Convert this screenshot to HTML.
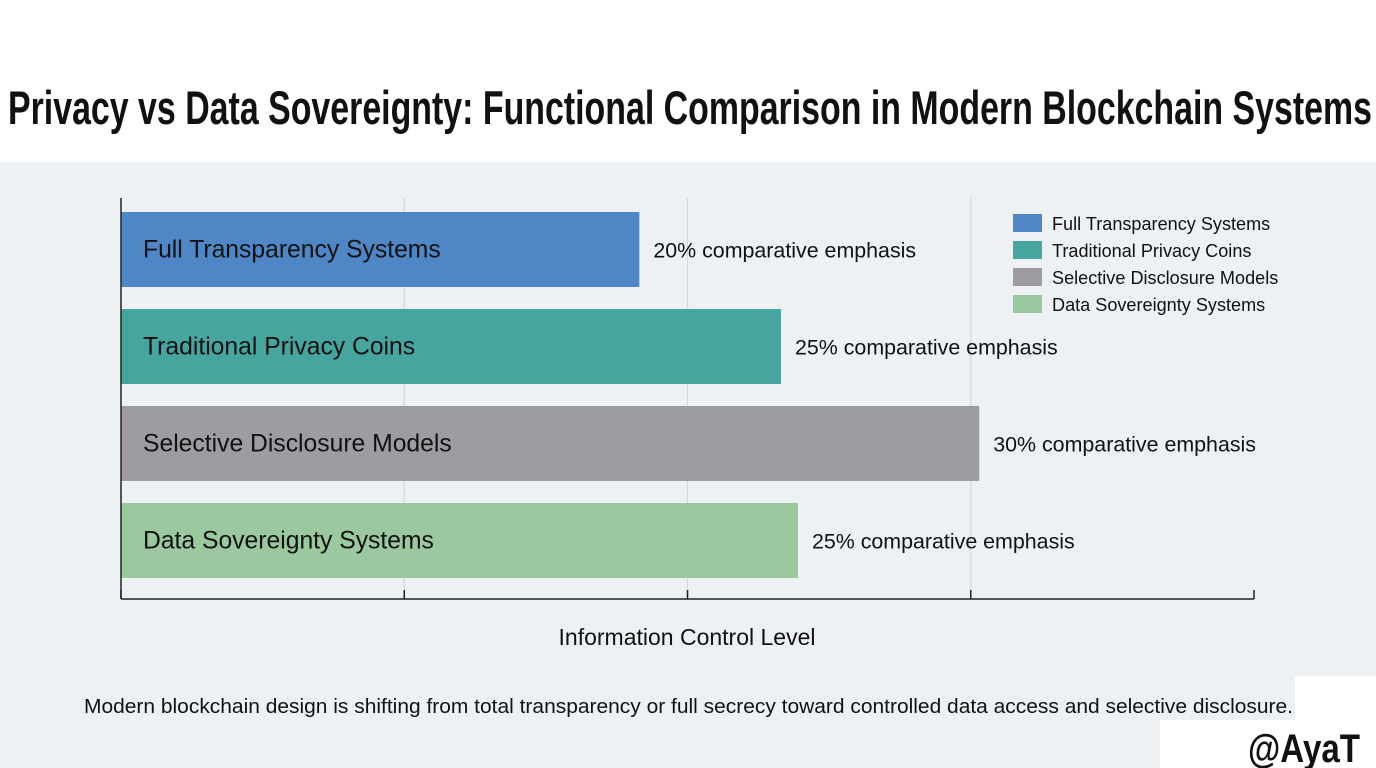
<!DOCTYPE html>
<html><head><meta charset="utf-8"><style>
body{margin:0;width:1376px;height:768px;overflow:hidden;background:#fff;font-family:"Liberation Sans",sans-serif}
svg{display:block}
</style></head><body>
<svg id="chart" width="1376" height="768" xmlns="http://www.w3.org/2000/svg">
<rect x="0" y="0" width="1376" height="162" fill="#ffffff"/>
<rect x="0" y="162" width="1376" height="606" fill="#edf1f4"/>
<text x="8" y="124" textLength="1364" lengthAdjust="spacingAndGlyphs" font-family="'Liberation Sans Narrow','Liberation Sans',sans-serif" font-weight="bold" font-size="47" fill="#111">Privacy vs Data Sovereignty: Functional Comparison in Modern Blockchain Systems</text>
<g id="grid"></g>
<g id="bars"></g>
<g id="axis"></g>
<g id="legend"></g>
<text x="687" y="645" text-anchor="middle" font-size="23" fill="#111">Information Control Level</text>
<text x="84" y="713" textLength="1209" lengthAdjust="spacingAndGlyphs" font-size="20" fill="#111">Modern blockchain design is shifting from total transparency or full secrecy toward controlled data access and selective disclosure.</text>
<rect x="1160" y="720" width="216" height="48" fill="#fff"/>
<rect x="1295" y="676" width="81" height="44" fill="#fff"/>
<text x="1248" y="762" textLength="112" lengthAdjust="spacingAndGlyphs" font-family="'Liberation Sans Narrow','Liberation Sans',sans-serif" font-weight="bold" font-size="40" fill="#111">@AyaT</text>
</svg>
<script>
const categories=["Full Transparency Systems","Traditional Privacy Coins","Selective Disclosure Models","Data Sovereignty Systems"];
const controlLevel=[18.3,23.3,30.3,23.9];
const emphasisPct=[20,25,30,25];
const colors=["#4f86c6","#46a59f","#9e9ca1","#9ac99f"];
const xTicks=[0,10,20,30,40];
const NS="http://www.w3.org/2000/svg";
const X0=121,X1=1254,DMAX=40;
const x=v=>X0+(X1-X0)*v/DMAX;
const yBand=i=>212+i*97;
const BH=75;
function mk(tag,attrs,parent,text){const e=document.createElementNS(NS,tag);for(const k in attrs)e.setAttribute(k,attrs[k]);if(text!=null)e.textContent=text;parent.appendChild(e);return e;}
const grid=document.getElementById('grid'),bars=document.getElementById('bars'),axis=document.getElementById('axis'),legend=document.getElementById('legend');
xTicks.forEach((t,i)=>{
  if(i>0&&i<xTicks.length-1){const g=mk('line',{x1:x(t),x2:x(t),y1:198,y2:598,stroke:'#d5d9dd','stroke-width':1.2},grid);
  
  }
  const tk=mk('line',{x1:x(t),x2:x(t),y1:590,y2:599,stroke:'#222','stroke-width':1.5},axis);
  
  
});
const ax=mk('line',{x1:X0,x2:X1,y1:599,y2:599,stroke:'#222','stroke-width':1.5},axis);


const ay=mk('line',{x1:X0,x2:X0,y1:198,y2:599,stroke:'#222','stroke-width':1.5},axis);


categories.forEach((c,i)=>{
  const y=yBand(i);
  const r=mk('rect',{x:X0,y:y,width:x(controlLevel[i])-X0,height:BH,fill:colors[i]},bars);
  
  
  const t=mk('text',{x:143,y:y+BH/2+8,'font-size':24.7,fill:'#111'},bars,c);
  
  
  const v=mk('text',{x:x(controlLevel[i])+14,y:y+BH/2+8,'font-size':21.4,fill:'#111'},bars,emphasisPct[i]+'% comparative emphasis');
  
  
  const s=mk('rect',{x:1013,y:214+i*27,width:29,height:18,fill:colors[i]},legend);
  
  
  const lt=mk('text',{x:1052,y:230+i*27,'font-size':18.1,fill:'#111'},legend,c);
  
  
});
</script>
</body></html>
